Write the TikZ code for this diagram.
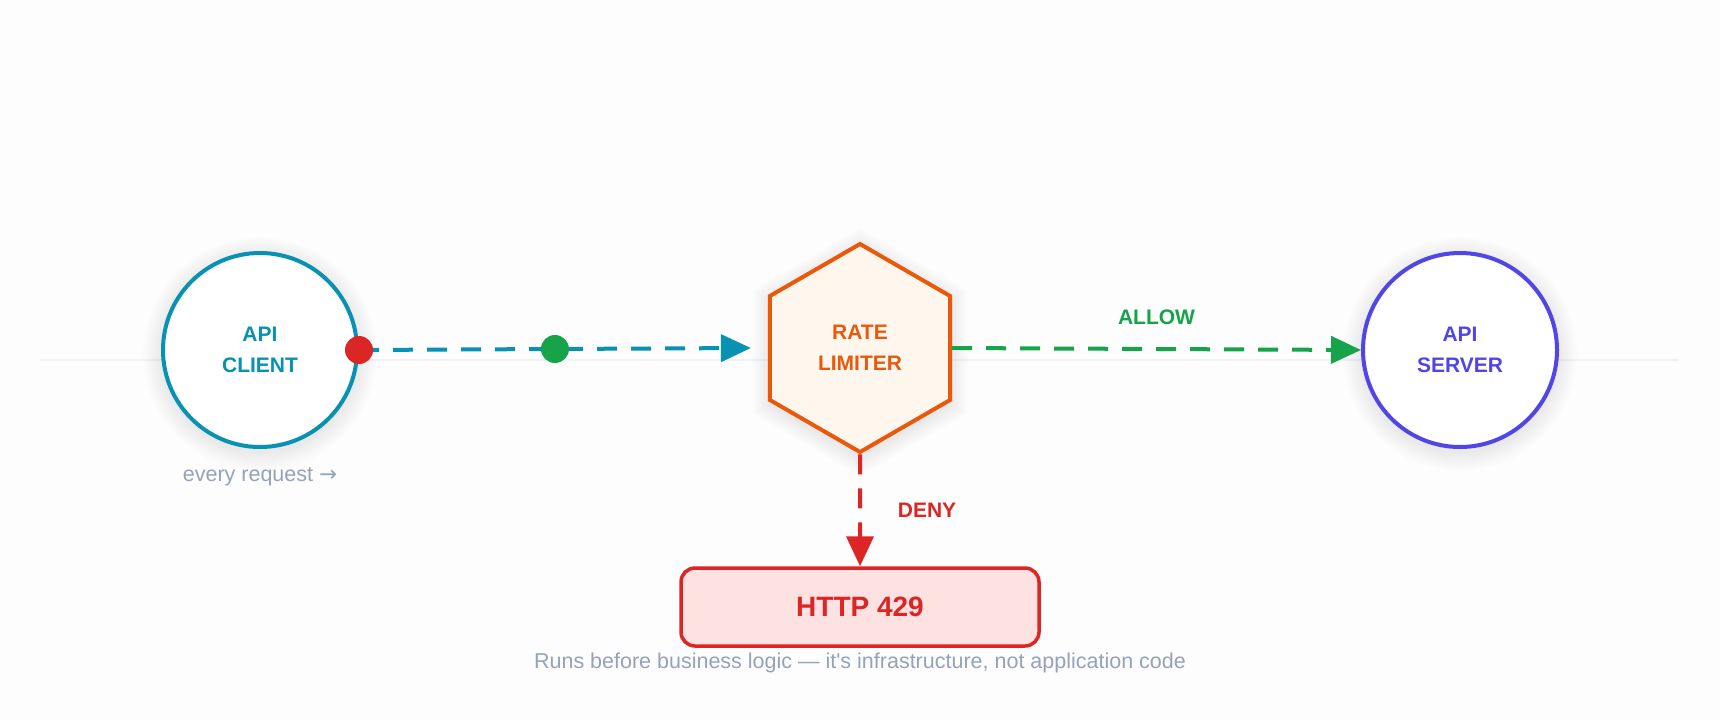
\documentclass[tikz,border=0pt]{standalone}
\usepackage{fontspec}
\setmainfont{Liberation Sans}[Ligatures=TeXOff]
\newfontfamily\dejavu{DejaVu Sans}
\usetikzlibrary{shapes.geometric,arrows.meta}
\definecolor{cyanc}{HTML}{0891B2}
\definecolor{redc}{HTML}{DC2626}
\definecolor{greenc}{HTML}{16A34A}
\definecolor{orangec}{HTML}{EA580C}
\definecolor{indigoc}{HTML}{4F46E5}
\definecolor{hexfill}{HTML}{FFF7ED}
\definecolor{boxfill}{HTML}{FEE2E2}
\definecolor{muted}{HTML}{94A3B8}
\definecolor{baseln}{HTML}{EEF2F6}
\definecolor{bgc}{HTML}{FDFDFD}
\tikzset{
  lbl/.style={font=\fontsize{21}{31}\selectfont\bfseries, align=center},
  circnode/.style={circle, minimum size=194pt, inner sep=0pt, line width=4pt, fill=white, lbl},
  hexshape/.style={regular polygon, regular polygon sides=6, shape border rotate=30, inner sep=0pt},
  hexnode/.style={hexshape, minimum size=208pt, line width=4pt, draw=orangec, fill=hexfill, text=orangec, lbl},
  boxnode/.style={rectangle, rounded corners=14pt, minimum width=358pt, minimum height=78pt,
     line width=3.5pt, draw=redc, fill=boxfill, text=redc, font=\fontsize{28}{31}\selectfont\bfseries},
  dotnode/.style={circle, minimum size=28pt, inner sep=0pt},
  flow/.style={line width=4pt, dash pattern=on 20pt off 14pt},
  tip/.style={-{Triangle[length=30pt,width=27pt]}},
  note/.style={text=muted, font=\fontsize{21.5}{25}\selectfont},
  shadowc/.style={fill=black, opacity=0.006}
}
\begin{document}
\begin{tikzpicture}[x=1pt,y=-1pt]
\fill[bgc] (0,0) rectangle (1720,720);
\useasboundingbox (0,0) rectangle (1720,720);
% baseline
\draw[baseln, line width=2pt] (40,360) -- (1678,360);
% soft shadows
\foreach \r in {2,4,...,20} {
  \fill[shadowc] (260,354) circle ({97+\r});
  \fill[shadowc] (1460,354) circle ({97+\r});
  \node[hexshape, shadowc, minimum size={208+2*\r}] at (860,352) {};
}
% nodes
\node[circnode, draw=cyanc, text=cyanc] (client) at (260,350) {API\\CLIENT};
\node[hexnode] (limiter) at (860,348) {RATE\\LIMITER};
\node[circnode, draw=indigoc, text=indigoc] (server) at (1460,350) {API\\SERVER};
\node[boxnode] (http) at (860,607) {HTTP 429};
% connectors
\draw[flow, cyanc, tip] (client.east) -- node[dotnode, fill=greenc] (packet) {} ([xshift=-17pt]limiter.west);
\node[dotnode, fill=redc] (src) at (client.east) {};
\draw[flow, greenc, tip] (limiter.east) -- node[lbl, text=greenc, yshift=32pt] (allow) {ALLOW} (server.west);
\draw[flow, redc, tip] (limiter.south) -- node[lbl, text=redc, xshift=67pt] (deny) {DENY} (http.north);
% notes
\node[note] (every) at (260,477) {every request {\dejavu →}};
\node[note] (caption) at (860,663) {Runs before business logic — it's infrastructure, not application code};
\end{tikzpicture}
\end{document}
